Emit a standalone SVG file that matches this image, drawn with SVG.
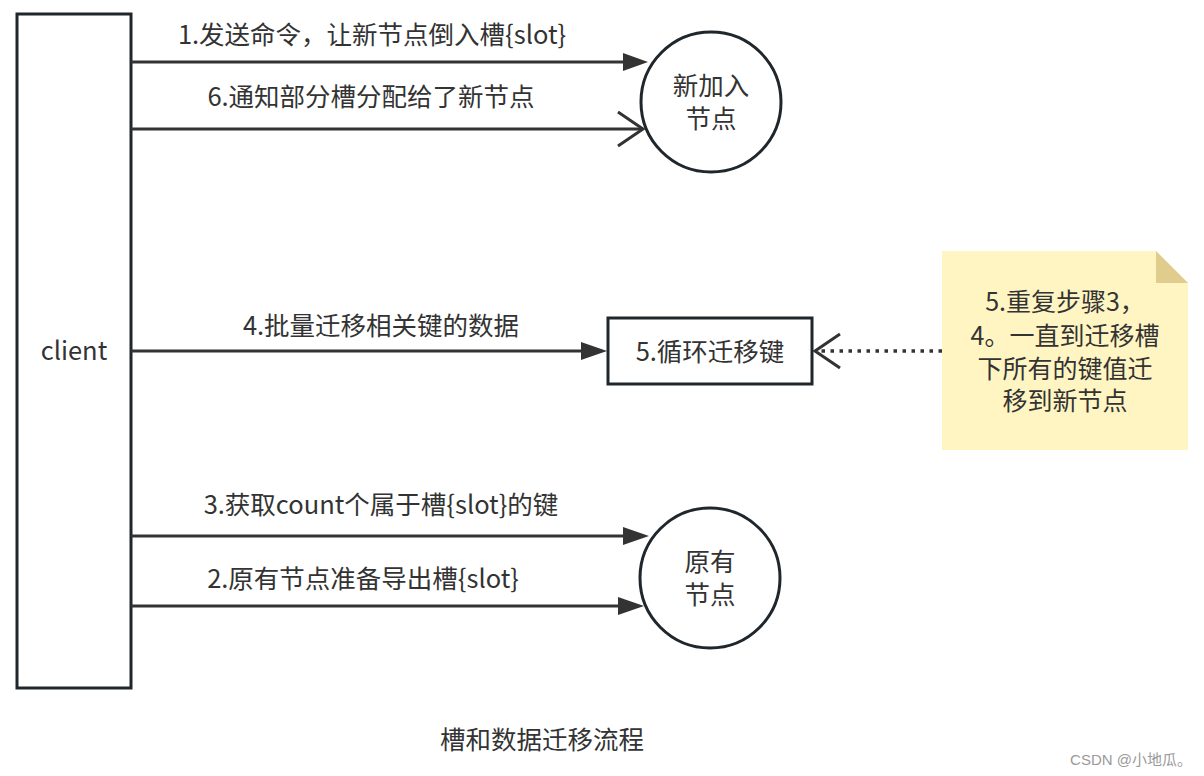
<svg xmlns="http://www.w3.org/2000/svg" width="1204" height="776" viewBox="0 0 1204 776">
<style>
.node{fill:#ffffff;stroke:#1f262c;stroke-width:3}
.t{font-family:"Noto Sans CJK SC","Liberation Sans",sans-serif;font-size:25.5px;fill:#333333;text-anchor:middle}
.n{font-size:25px}
.ln{stroke:#333333;stroke-width:3;fill:none}
.head{fill:#333333}
.open{stroke:#333333;stroke-width:3;fill:none}
</style>
<rect width="1204" height="776" fill="#ffffff"/>
<g id="client">
<rect class="node" x="17" y="14" width="114" height="674"/>
<text class="t" x="74" y="360">client</text>
</g>
<g id="newnode">
<circle class="node" cx="711" cy="102" r="70"/>
<text class="t" x="711" y="95">新加入<tspan x="711" dy="33">节点</tspan></text>
</g>
<g id="loop">
<rect class="node" x="608" y="318" width="204" height="66"/>
<text class="t" x="710" y="361">5.循环迁移键</text>
</g>
<g id="oldnode">
<circle class="node" cx="710" cy="578" r="70"/>
<text class="t" x="710" y="571">原有<tspan x="710" dy="33">节点</tspan></text>
</g>
<g id="note">
<path d="M942 251 H1156 L1188 283 V450 H942 Z" fill="#fff5c3"/>
<path d="M1156 251 L1188 283 H1156 Z" fill="#e0cc8c"/>
<text class="t n" x="1065" y="311">5.重复步骤3，<tspan x="1065" dy="34">4。一直到迁移槽</tspan><tspan x="1065" dy="33">下所有的键值迁</tspan><tspan x="1065" dy="32">移到新节点</tspan></text>
</g>
<g id="connectors">
<line class="ln" x1="131" y1="62" x2="625" y2="62"/>
<path class="head" d="M623 53 L648 62 L623 71 Z"/>
<line class="ln" x1="131" y1="129" x2="641" y2="129"/>
<path class="open" d="M618 112 L643 129 L618 146"/>
<line class="ln" x1="131" y1="351" x2="582" y2="351"/>
<path class="head" d="M581 342 L607 351 L581 360 Z"/>
<line class="ln" x1="131" y1="536" x2="625" y2="536"/>
<path class="head" d="M623 527 L649 536 L623 545 Z"/>
<line class="ln" x1="131" y1="606" x2="620" y2="606"/>
<path class="head" d="M618 597 L644 606 L618 615 Z"/>
<line x1="942" y1="351" x2="820" y2="351" stroke="#333333" stroke-width="3.5" stroke-dasharray="3.5 5.5"/>
<path class="open" d="M840 334 L815 351 L840 368"/>
</g>
<g id="labels">
<text class="t" x="372" y="44">1.发送命令，让新节点倒入槽{slot}</text>
<text class="t" x="371" y="106">6.通知部分槽分配给了新节点</text>
<text class="t" x="381" y="335">4.批量迁移相关键的数据</text>
<text class="t" x="381" y="514">3.获取count个属于槽{slot}的键</text>
<text class="t" x="363" y="588">2.原有节点准备导出槽{slot}</text>
<text class="t" x="542" y="749">槽和数据迁移流程</text>
</g>
<text x="1131" y="765" font-family="'Liberation Sans','Noto Sans CJK SC',sans-serif" font-size="15" fill="#9a9a9a" text-anchor="middle">CSDN @小地瓜。</text>
</svg>
